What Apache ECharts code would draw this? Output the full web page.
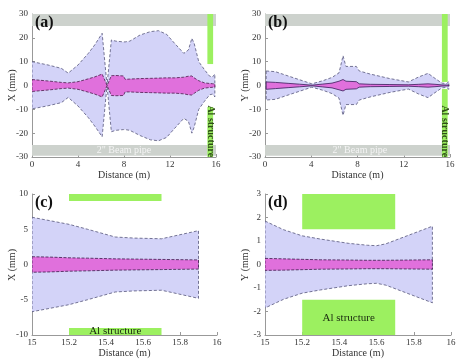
<!DOCTYPE html>
<html><head><meta charset="utf-8">
<script src="https://cdn.jsdelivr.net/npm/echarts@6/dist/echarts.min.js"></script>
<style>html,body{margin:0;padding:0;background:#fff}#c{width:474px;height:359px}</style>
</head><body><div id="c"></div>
<script>
// ---- Panel (a): horizontal envelope over full line (curve A = upper-left, curve B = lower-left; they cross near 6.5 m)
const aDist    = [0, 1.4, 2.55, 3.15, 4.0, 4.9, 5.45, 6.1, 6.9, 7.3, 7.95, 8.1, 8.5, 9.4, 10.3, 11.0, 11.7, 12.4, 13.2, 13.6, 13.9, 14.1, 14.5, 15.0, 15.45, 15.7, 15.9];
const aOuterA  = [10, 8.6, 7.2, 5.2, 8.6, 13.5, 17, 21.9, -19.4, -18.8, -18.5, -18.5, -18.8, -21.0, -22.8, -23.2, -21.8, -18, -13.8, -15, -20, -17.5, -10, -6.6, -3.9, -3.6, -4.8];
const aOuterB  = [-9.8, -8.5, -7.2, -5.0, -8.6, -13.5, -17, -21.5, 19.1, 18.6, 18.3, 18.3, 18.6, 21.2, 22.6, 23.0, 21.5, 17.7, 13.5, 14.9, 19.8, 17.7, 10, 6.6, 3.9, 3.6, 4.8];
const aInnerA  = [2.5, 1.9, 1.3, 1.1, 1.6, 2.8, 3.6, 4.8, -4.2, -4.3, -4.2, -2.7, -2.7, -2.9, -3.0, -3.1, -3.2, -3.2, -3.5, -3.9, -4.0, -3.3, -2.0, -1.1, -0.85, -0.75, -0.65];
const aInnerB  = [-2.5, -1.9, -1.3, -1.1, -1.6, -2.8, -3.6, -4.8, 4.1, 4.2, 4.0, 2.6, 2.7, 2.9, 3.0, 3.1, 3.2, 3.2, 3.5, 3.9, 4.0, 3.2, 2.0, 1.1, 0.85, 0.75, 0.65];

// ---- Panel (b): vertical envelope over full line
const bDist    = [0.1, 0.9, 2.0, 3.0, 4.05, 5.0, 5.8, 6.4, 6.75, 7.0, 7.9, 8.15, 9.1, 10.8, 12.4, 13.3, 14.1, 14.7, 15.3, 15.7, 15.9];
const bOuterUp = [6.1, 5.8, 4.0, 2.4, 0.7, 2.0, 3.4, 5.3, 12.5, 8.0, 8.0, 6.1, 4.8, 2.9, 1.5, 3.6, 5.1, 3.0, 1.0, 0.8, 1.6];
const bOuterLo = [-6.1, -5.8, -4.0, -2.4, -0.7, -2.0, -3.4, -5.3, -12.5, -8.0, -8.0, -6.1, -4.8, -2.9, -1.5, -3.6, -5.1, -3.0, -1.0, -0.8, -1.6];
const bInnerUp = [1.5, 1.3, 0.9, 0.55, 0.15, 0.6, 1.0, 1.8, 2.5, 1.8, 1.6, 0.7, 0.5, 0.4, 0.3, 0.5, 0.7, 0.5, 0.25, 0.2, 0.2];
const bInnerLo = [-1.6, -1.3, -0.9, -0.55, -0.15, -0.6, -1.0, -1.8, -2.3, -1.6, -1.4, -0.7, -0.5, -0.4, -0.3, -0.5, -0.7, -0.5, -0.25, -0.2, -0.2];

// ---- Panel (c): zoom of (a) near the Al structure
const cDist    = [15.0, 15.1, 15.2, 15.3, 15.45, 15.55, 15.7, 15.9];
const cOuterUp = [6.7, 6.2, 5.7, 5.0, 3.9, 3.75, 3.65, 4.8];
const cOuterLo = [-6.7, -6.2, -5.7, -5.0, -3.9, -3.75, -3.65, -4.8];
const cInnerUp = [1.1, 1.05, 0.95, 0.9, 0.8, 0.77, 0.72, 0.65];
const cInnerLo = [-1.1, -1.05, -0.95, -0.9, -0.8, -0.77, -0.72, -0.65];

// ---- Panel (d): zoom of (b) near the Al structure
const dDist    = [15.0, 15.1, 15.2, 15.3, 15.45, 15.55, 15.6, 15.65, 15.9];
const dOuterUp = [1.85, 1.48, 1.22, 1.08, 0.9, 0.82, 0.8, 0.88, 1.63];
const dOuterLo = [-1.85, -1.48, -1.22, -1.08, -0.9, -0.82, -0.8, -0.88, -1.63];
const dInnerUp = [0.26, 0.24, 0.22, 0.2, 0.19, 0.18, 0.18, 0.18, 0.2];
const dInnerLo = [-0.25, -0.24, -0.22, -0.2, -0.19, -0.18, -0.18, -0.18, -0.2];

// ---- Structures: [x1, x2, y1, y2]
const pipeRectsFull = [[0, 16, 25, 30], [0, 16, -29.5, -25]];
const alRectsA = [[15.25, 15.75, 9, 30], [15.25, 15.75, -30, -9]];
const alRectsB = [[15.3, 15.8, 1.5, 30], [15.3, 15.8, -30, -1.5]];
const alRectsC = [[15.2, 15.7, 9, 10], [15.2, 15.7, -10, -9]];
const alRectsD = [[15.2, 15.7, 1.5, 3], [15.2, 15.7, -3, -1.5]];

// ---- Tick setup and labels
const fullXTicks = [0, 16, 4];
const zoomXTicks = [15, 16, 0.2];
const aYTicks = [-30, 30, 10];
const cYTicks = [-10, 10, 5];
const dYTicks = [-3, 3, 1];
const panelLabels = ['(a)', '(b)', '(c)', '(d)'];
const yNames = ['X (mm)', 'Y (mm)', 'X (mm)', 'Y (mm)'];
const xName = 'Distance (m)';
const pipeText = '2" Beam pipe';
const alText = 'Al structure';

const SERIF = '"Liberation Serif", "DejaVu Serif", serif';
const LAV = '#d3d3f8', PINK = '#e070dc', GRAY = '#cdd2cd', GREEN = '#9cf060';

const grids = [
  {left: 32, top: 14, width: 184, height: 143},
  {left: 265, top: 14, width: 185, height: 143},
  {left: 32, top: 194, width: 185, height: 142},
  {left: 265, top: 194, width: 186, height: 142}
];

function xAxis(i, t) {
  return {gridIndex: i, type: 'value', min: t[0], max: t[1], interval: t[2],
    name: xName, nameLocation: 'middle', nameGap: 13,
    nameTextStyle: {fontFamily: SERIF, fontSize: 10, color: '#333'},
    axisLine: {show: true, onZero: false, lineStyle: {color: '#999', width: 1}},
    axisTick: {show: true, inside: true, length: 3, lineStyle: {color: '#999'}},
    axisLabel: {fontFamily: SERIF, fontSize: 9, color: '#333', margin: 3,
      formatter: v => String(+v.toFixed(2))},
    splitLine: {show: false}};
}
function yAxis(i, t) {
  return {gridIndex: i, type: 'value', min: t[0], max: t[1], interval: t[2],
    axisLine: {show: true, onZero: false, lineStyle: {color: '#999', width: 1}},
    axisTick: {show: true, inside: true, length: 3, lineStyle: {color: '#999'}},
    axisLabel: {fontFamily: SERIF, fontSize: 9, color: '#333', margin: 4},
    splitLine: {show: false}};
}

function band(g, xs, up, lo, fill, stroke, dash, z) {
  return {type: 'custom', xAxisIndex: g, yAxisIndex: g, clip: true, z: z, silent: true,
    data: xs.map((x, i) => [x, up[i], lo[i]]),
    encode: {x: 0, y: [1, 2]},
    renderItem: (params, api) => {
      if (params.dataIndex !== 0) return null;
      const pts = xs.map((x, i) => api.coord([x, up[i]]))
        .concat(xs.map((x, i) => api.coord([x, lo[i]])).reverse());
      return {type: 'polygon', shape: {points: pts},
        style: {fill: fill, stroke: stroke, lineWidth: 0.8, lineDash: dash}};
    }};
}

function rects(g, list, fill, z) {
  return {type: 'custom', xAxisIndex: g, yAxisIndex: g, clip: true, z: z, silent: true,
    data: list.map(r => [r[0], r[2], r[1], r[3]]),
    encode: {x: [0, 2], y: [1, 3]},
    renderItem: (params, api) => {
      const r = list[params.dataIndex];
      const p1 = api.coord([r[0], r[3]]), p2 = api.coord([r[1], r[2]]);
      return {type: 'rect', shape: {x: p1[0], y: p1[1], width: p2[0] - p1[0], height: p2[1] - p1[1]},
        style: {fill: fill}};
    }};
}

function label(g, x, y, text, opts, z) {
  return {type: 'custom', xAxisIndex: g, yAxisIndex: g, clip: false, z: z, silent: true,
    data: [[x, y]], encode: {x: 0, y: 1},
    renderItem: (params, api) => {
      const p = api.coord([x, y]);
      return {type: 'text', x: p[0], y: p[1], rotation: opts.rotation || 0,
        style: {text: text, fill: opts.color, font: opts.font, align: 'center', verticalAlign: 'middle'}};
    }};
}

const series = [];
// structures
series.push(rects(0, pipeRectsFull, GRAY, 1), rects(1, pipeRectsFull, GRAY, 1));
series.push(rects(0, alRectsA, GREEN, 2), rects(1, alRectsB, GREEN, 2));
series.push(rects(2, alRectsC, GREEN, 2), rects(3, alRectsD, GREEN, 2));
// envelopes
series.push(band(0, aDist, aOuterA, aOuterB, LAV, '#55557a', [3, 2], 3));
series.push(band(0, aDist, aInnerA, aInnerB, PINK, '#4a1c4a', [3, 1.5], 4));
series.push(band(1, bDist, bOuterUp, bOuterLo, LAV, '#55557a', [3, 2], 3));
series.push(band(1, bDist, bInnerUp, bInnerLo, PINK, '#3a1c5a', null, 4));
series.push(band(2, cDist, cOuterUp, cOuterLo, LAV, '#55557a', [3, 2], 3));
series.push(band(2, cDist, cInnerUp, cInnerLo, PINK, '#3a1c4a', [3, 1.5], 4));
series.push(band(3, dDist, dOuterUp, dOuterLo, LAV, '#55557a', [3, 2], 3));
series.push(band(3, dDist, dInnerUp, dInnerLo, PINK, '#3a1c4a', [3, 1.5], 4));
// texts
const pipeFont = '10px ' + SERIF;
series.push(label(0, 8, -27.3, pipeText, {color: '#f4f4f4', font: pipeFont}, 5));
series.push(label(1, 8.2, -27.3, pipeText, {color: '#f4f4f4', font: pipeFont}, 5));
series.push(label(0, 15.5, -19.2, alText, {color: '#2e4d18', font: 'bold 10px ' + SERIF, rotation: -Math.PI / 2}, 5));
series.push(label(1, 15.55, -19.2, alText, {color: '#2e4d18', font: 'bold 10px ' + SERIF, rotation: -Math.PI / 2}, 5));
series.push(label(2, 15.45, -9.45, alText, {color: '#1a2a10', font: '11px ' + SERIF}, 5));
series.push(label(3, 15.45, -2.3, alText, {color: '#1a2a10', font: '11px ' + SERIF}, 5));

const graphics = panelLabels.map((t, i) => ({type: 'text', left: grids[i].left + 3, top: grids[i].top + 1, z: 10,
  style: {text: t, font: 'bold 16px ' + SERIF, fill: '#111'}}));
yNames.forEach((t, i) => graphics.push({type: 'text', x: grids[i].left - 20, y: grids[i].top + grids[i].height / 2,
  rotation: Math.PI / 2, z: 10,
  style: {text: t, font: '10px ' + SERIF, fill: '#333', align: 'center', verticalAlign: 'middle'}}));

const chart = echarts.init(document.getElementById('c'), null, {renderer: 'canvas'});
chart.setOption({
  animation: false,
  grid: grids,
  xAxis: [xAxis(0, fullXTicks), xAxis(1, fullXTicks), xAxis(2, zoomXTicks), xAxis(3, zoomXTicks)],
  yAxis: [yAxis(0, aYTicks), yAxis(1, aYTicks), yAxis(2, cYTicks), yAxis(3, dYTicks)],
  series: series,
  graphic: graphics
});
</script></body></html>
